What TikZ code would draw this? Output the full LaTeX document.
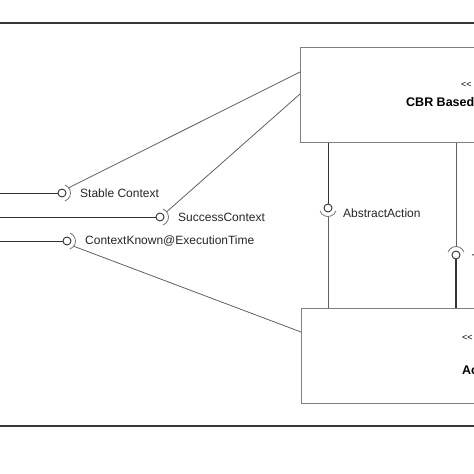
\documentclass[tikz,border=0pt]{standalone}
\usepackage{fontspec}
\setmainfont{Liberation Sans}
\usetikzlibrary{calc}
\begin{document}
\begin{tikzpicture}[x=1pt,y=1pt,
  rule/.style={draw=black!78,line width=1.6pt},
  compbox/.style={draw=black!50,line width=0.9pt,rectangle,anchor=north west,inner sep=0pt},
  conn/.style={draw=black!62,line width=0.8pt},
  feed/.style={draw=black!80,line width=0.9pt},
  ball/.style={circle,draw=black!80,fill=white,line width=0.9pt,minimum size=8pt,inner sep=0pt},
  sock/.style={draw=black!55,line width=0.8pt},
  lbl/.style={font=\fontsize{12}{14}\selectfont,anchor=west,inner sep=0pt,text=black!85},
  ster/.style={font=\fontsize{9}{11}\selectfont,anchor=west,inner sep=0pt},
  title/.style={font=\bfseries\fontsize{12.5}{15}\selectfont,anchor=west,inner sep=0pt}]
\useasboundingbox (0,0) rectangle (474,-474);
\clip (0,0) rectangle (474,-474);
\fill[white] (0,0) rectangle (474,-474);
% horizontal rules
\coordinate (rtl) at (0,-23); \coordinate (rtr) at (474,-23);
\coordinate (rbl) at (0,-426); \coordinate (rbr) at (474,-426);
\draw[rule] (rtl) -- (rtr);
\draw[rule] (rbl) -- (rbr);
% component boxes
\node[compbox,minimum width=230pt,minimum height=95pt] (cbr) at (300,-47) {};
\node[compbox,minimum width=230pt,minimum height=95pt] (act) at (301,-308) {};
\node[ster] (cbrst) at (461,-85) {<\kern0pt<};
\node[title] (cbrname) at (406,-102) {CBR Based};
\node[ster] (actst) at (462,-338) {<\kern0pt<};
\node[title] (actname) at (462,-370) {Ac};
% left lollipops
\node[ball] (b1) at (62,-193) {};
\node[ball] (b2) at (160,-217) {};
\node[ball] (b3) at (67,-241) {};
\coordinate (s1) at (0,-193);
\coordinate (s2) at (0,-217);
\coordinate (s3) at (0,-241);
\draw[feed] (s1) -- (b1.west);
\draw[feed] (s2) -- (b2.west);
\draw[feed] (s3) -- (b3.west);
\foreach \b in {b1,b2,b3}{
  \draw[sock] ([shift={(-70:8.5)}]\b.center) arc[start angle=-70,end angle=70,radius=8.5];
}
\coordinate (k1) at ($(b1.center)+(38:8.5)$);
\coordinate (k2) at ($(b2.center)+(38:8.5)$);
\coordinate (k3) at ($(b3.center)+(-38:8.5)$);
\coordinate (e1) at (300,-72);
\coordinate (e2) at (300,-94);
\coordinate (e3) at (301,-332);
\draw[conn] (k1) -- (e1);
\draw[conn] (k2) -- (e2);
\draw[conn] (k3) -- (e3);
\node[lbl] (l1) at (80,-193) {Stable Context};
\node[lbl] (l2) at (178,-217) {SuccessContext};
\node[lbl] (l3) at (85,-241) {ContextKnown@ExecutionTime};
% vertical interfaces
\node[ball] (b4) at (328,-208) {};
\draw[feed] (cbr.south west -| b4) -- (b4.north);
\draw[sock] ([shift={(200:8.5)}]b4.center) arc[start angle=200,end angle=340,radius=8.5];
\coordinate (k4) at ($(b4.center)+(0,-8.5)$);
\draw[conn] (k4) -- (act.north west -| b4);
\node[lbl] (l4) at (343,-213) {AbstractAction};
\node[ball] (b5) at (456,-255) {};
\draw[sock] ([shift={(20:8.5)}]b5.center) arc[start angle=20,end angle=160,radius=8.5];
\coordinate (k5) at ($(b5.center)+(0,8.5)$);
\draw[conn] (cbr.south west -| b5) -- (k5);
\draw[feed,line width=1.3pt] (b5.south) -- (act.north west -| b5);
\node[lbl] (l5) at (471.5,-257) {-};
\end{tikzpicture}
\end{document}
